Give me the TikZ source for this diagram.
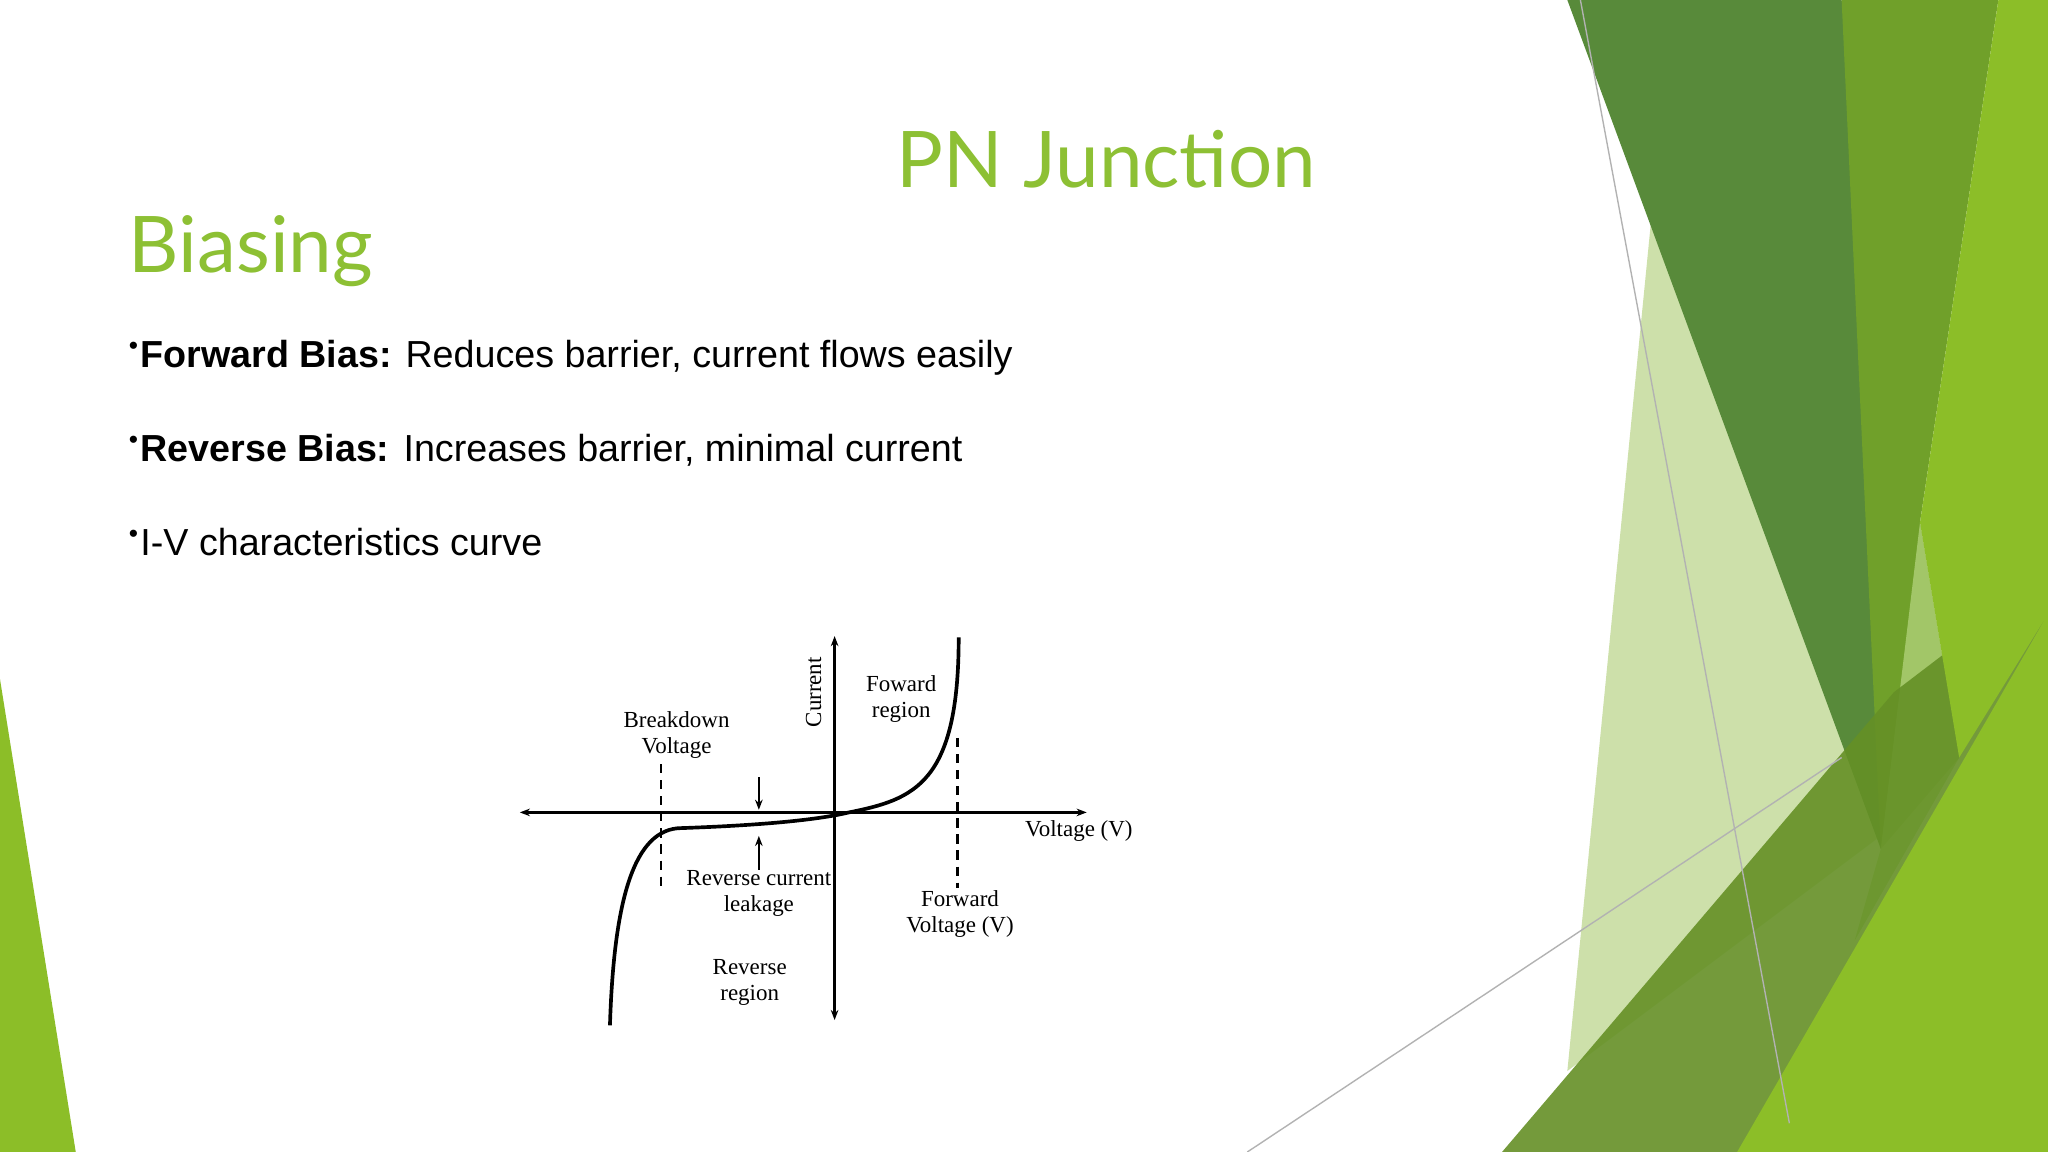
\documentclass[tikz,border=0pt]{standalone}
\usepackage{fontspec}
\setmainfont{Liberation Serif}
\newfontfamily\titlefont{Lato}
\newfontfamily\bodyfont{Liberation Sans}
\usetikzlibrary{arrows.meta}
\definecolor{ttl}{RGB}{141,192,52}
\definecolor{dkg}{RGB}{88,138,58}
\definecolor{mdg}{RGB}{112,160,42}
\definecolor{brg}{RGB}{140,190,40}
\definecolor{pale}{RGB}{205,224,170}
\definecolor{lgr}{RGB}{175,208,120}
\tikzset{
  lbl/.style={font=\fontsize{5}{5.6}\selectfont, align=center, inner sep=0pt},
  bul/.style={font=\bodyfont\fontsize{8.2}{9}\selectfont, anchor=west, inner sep=0pt},
  ax/.style={line width=0.5pt, {Stealth[length=2.2pt]}-{Stealth[length=2.2pt]}},
  arr/.style={line width=0.5pt, -{Stealth[length=2.2pt]}},
  dsh/.style={line width=0.5pt, dash pattern=on 2pt off 1.5pt}
}
\begin{document}
\begin{tikzpicture}[x=0.01cm,y=-0.01cm]
\useasboundingbox (0,0) rectangle (1568,882);
\fill[white] (0,0) rectangle (1568,882);
% decoration
\fill[pale] (1265,160) -- (1440,640) -- (1200,820) -- cycle;
\fill[dkg] (1200,0) -- (1410,0) -- (1470,400) -- (1440,650) -- cycle;
\fill[mdg] (1410,0) -- (1530,0) -- (1470,400) -- (1500,580) -- (1440,650) -- cycle;
\fill[lgr,opacity=0.8] (1470,400) -- (1500,580) -- (1420,720) -- (1440,650) -- cycle;
\fill[mdg!90!black,opacity=0.9] (1150,882) -- (1450,530) -- (1568,440) -- (1568,882) -- cycle;
\fill[brg] (1530,0) -- (1568,0) -- (1568,882) -- (1340,882) -- (1568,470) -- (1500,580) -- (1470,400) -- cycle;
\fill[brg] (1330,882) -- (1568,470) -- (1568,882) -- cycle;
\fill[brg] (0,520) -- (58,882) -- (0,882) -- cycle;
\draw[gray!60,line width=0.3pt] (1210,0) -- (1370,860);
\draw[gray!60,line width=0.3pt] (955,882) -- (1410,580);
% text
\node[font=\titlefont\fontsize{17}{18}\selectfont, text=ttl, anchor=west, inner sep=0pt] (t1) at (686,122) {PN Junction};
\node[font=\titlefont\fontsize{17}{18}\selectfont, text=ttl, anchor=west, inner sep=0pt] (t2) at (98,192) {Biasing};
\node[bul] (b1) at (98,274) {\textsuperscript{•}\textbf{Forward Bias:} Reduces barrier, current flows easily};
\node[bul] (b2) at (98,345) {\textsuperscript{•}\textbf{Reverse Bias:} Increases barrier, minimal current};
\node[bul] (b3) at (98,415) {\textsuperscript{•}I-V characteristics curve};
% diagram
\coordinate (xl) at (398,622); \coordinate (xr) at (832,622);
\coordinate (yt) at (639,487); \coordinate (yb) at (639,781);
\draw[ax] (xl) -- (xr);
\draw[ax] (yt) -- (yb);
\coordinate (c0) at (467,785); \coordinate (c1) at (522,634); \coordinate (c2) at (734,488);
\draw[line width=0.8pt] (c0) .. controls (470,690) and (485,634) .. (c1)
  .. controls (580,632) and (625,628) .. (650,622)
  .. controls (700,612) and (734,600) .. (c2);
\coordinate (d1a) at (506,585); \coordinate (d1b) at (506,680);
\coordinate (d2a) at (733,565); \coordinate (d2b) at (733,680);
\draw[dsh] (d1a) -- (d1b);
\draw[dsh] (d2a) -- (d2b);
\coordinate (a1) at (581,595); \coordinate (a1e) at (581,620);
\coordinate (a2) at (581,666); \coordinate (a2e) at (581,640);
\draw[arr] (a1) -- (a1e);
\draw[arr] (a2) -- (a2e);
\node[lbl, rotate=90] (cur) at (623,530) {Current};
\node[lbl] (fr) at (690,535) {Foward\\region};
\node[lbl] (bv) at (518,563) {Breakdown\\Voltage};
\node[lbl] (vv) at (826,636) {Voltage (V)};
\node[lbl] (rcl) at (581,684) {Reverse current\\leakage};
\node[lbl] (fv) at (735,700) {Forward\\Voltage (V)};
\node[lbl] (rr) at (574,752) {Reverse\\region};
\end{tikzpicture}
\end{document}
